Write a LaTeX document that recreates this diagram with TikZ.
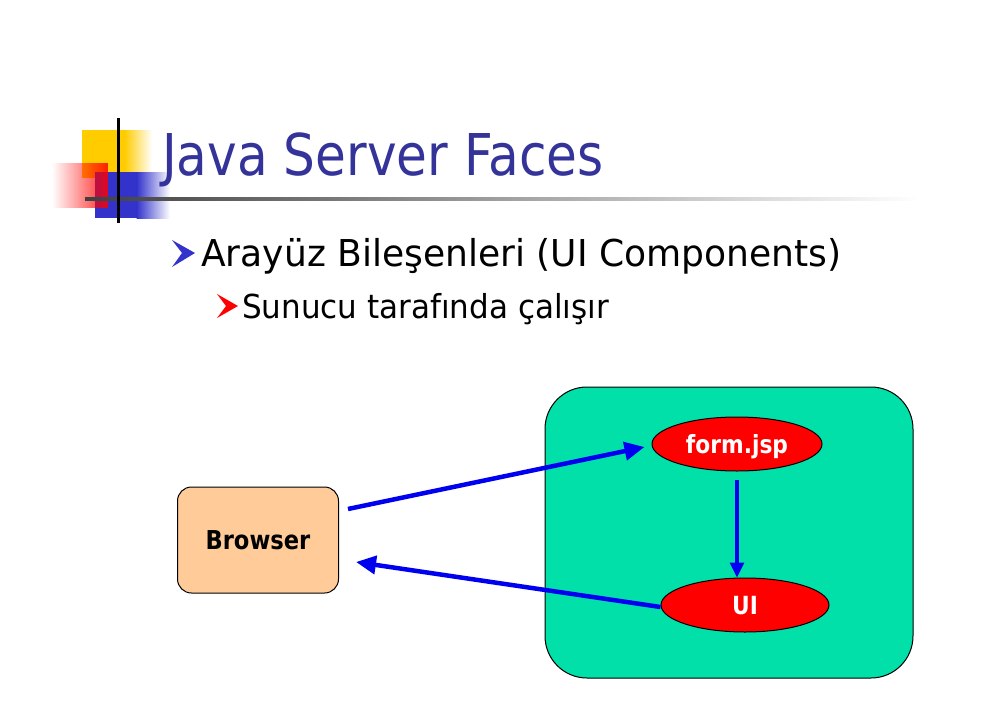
\documentclass[tikz,border=0pt]{standalone}
\usepackage{fontspec}
\setmainfont{DejaVu Sans}[FakeStretch=0.87]
\newfontfamily\bulletonefont{DejaVu Sans}[FakeStretch=0.975]
\newfontfamily\bullettwofont{DejaVu Sans}[FakeStretch=0.94]
\usetikzlibrary{arrows.meta,shapes.geometric,fadings}
\definecolor{titleblue}{HTML}{333399}
\definecolor{logoyellow}{HTML}{FFCC00}
\definecolor{logoblue}{HTML}{3333CC}
\definecolor{servergreen}{HTML}{00E0A8}
\definecolor{browserfill}{HTML}{FFCC99}
\definecolor{arrowblue}{HTML}{0000F0}
\tikzset{
  titletext/.style={anchor=base west, inner sep=0pt, text=titleblue, font=\fontsize{57.6}{60}\selectfont},
  bulletone/.style={anchor=base west, inner sep=0pt, font=\bulletonefont\fontsize{37}{40}\selectfont},
  bullettwo/.style={anchor=base west, inner sep=0pt, font=\bullettwofont\fontsize{33}{36}\selectfont},
  serverbox/.style={draw=black, line width=1pt, fill=servergreen, rounded corners=42pt, minimum width=368pt, minimum height=291pt},
  browserbox/.style={draw=black, line width=1pt, fill=browserfill, rounded corners=14pt, minimum width=161pt, minimum height=106pt, text depth=0pt, font=\bfseries\fontsize{26}{28}\selectfont},
  compnode/.style={ellipse, draw=black, line width=1pt, fill=red, text=white, inner sep=0pt, text depth=0pt, font=\bfseries\fontsize{25}{28}\selectfont},
  bigarrow/.style={draw=arrowblue, line width=4.5pt, -{Triangle[length=20pt,width=18pt]}},
  smallarrow/.style={draw=arrowblue, line width=3.2pt, -{Triangle[length=15pt,width=14pt]}}
}
\begin{document}
\begin{tikzpicture}[x=1pt,y=-1pt]
\useasboundingbox (0,0) rectangle (999,728);
\fill[white] (0,0) rectangle (999,728);
% logo
\fill[logoyellow] (82,130) rectangle (125,178);
\shade[left color=logoyellow, right color=white] (124.5,130) rectangle (152,178);
\fill[logoblue] (95,172) rectangle (137,218);
\shade[left color=logoblue, right color=white] (136.5,172) rectangle (170,218);
\fill[red, opacity=0.85, path fading=west] (52,163) rectangle (108,208);
\shade[left color=black!75, right color=white] (85,197.5) rectangle (920,200.5);
\fill[black] (116.5,118) rectangle (119.5,223);
% title and bullets
\node[titletext] (title) at (162,175) {Java Server Faces};
\fill[logoblue] (172,240) -- (195,253) -- (172,267) -- (182,253) -- cycle;
\node[bulletone] (b1) at (201,266) {Arayüz Bileşenleri (UI Components)};
\fill[red] (217,294) -- (238,306) -- (217,318) -- (226,306) -- cycle;
\node[bullettwo] (b2) at (242,318) {Sunucu tarafında çalışır};
% diagram
\node[serverbox] (server) at (729,532.5) {};
\node[browserbox] (browser) at (258,540) {Browser};
\node[compnode, minimum width=170pt, minimum height=54pt] (form) at (737,444) {form.jsp};
\node[compnode, minimum width=168pt, minimum height=54pt] (ui) at (745,605) {UI};
\draw[bigarrow] ([xshift=9pt,yshift=31pt]browser.east) -- ([xshift=-7pt,yshift=-3pt]form.west);
\draw[smallarrow] ([yshift=-8pt]form.south) -- (form.south |- ui.north);
\draw[bigarrow] ([yshift=-2pt]ui.west) -- ([xshift=17pt,yshift=-22pt]browser.east);
\end{tikzpicture}
\end{document}
